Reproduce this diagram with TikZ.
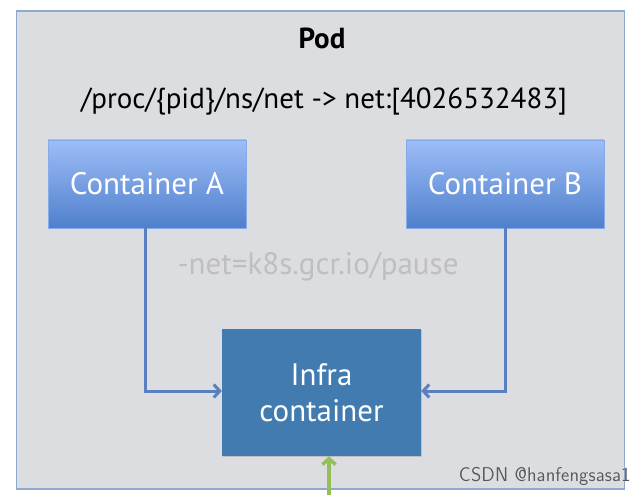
\documentclass[tikz,border=0pt]{standalone}
\usepackage{fontspec}
\setmainfont{PT Sans}
\usetikzlibrary{arrows.meta,shadows}
\definecolor{podbg}{HTML}{DCDDE0}
\definecolor{podline}{HTML}{8FA8D0}
\definecolor{ctop}{HTML}{9DBDF7}
\definecolor{cbot}{HTML}{4F80CC}
\definecolor{infra}{HTML}{417BAF}
\definecolor{link}{HTML}{5A7FC0}
\definecolor{grn}{HTML}{93BE5A}
\begin{document}
\begin{tikzpicture}[x=1pt,y=-1pt,
  cont/.style={draw=ctop!70!cbot,top color=ctop,bottom color=cbot,minimum width=198pt,minimum height=88pt,text=white,font=\fontsize{31}{34}\selectfont,drop shadow={opacity=0.3,shadow xshift=1pt,shadow yshift=-1pt}},
  link/.style={draw=link,line width=3pt,-{Straight Barb[length=6pt,width=13pt]}}]
\useasboundingbox (0,0) rectangle (641,495);
\fill[white] (0,0) rectangle (641,495);
\draw[draw=podline,fill=podbg,line width=1.2pt] (16.5,11) rectangle (624.5,489);
\node (pod) at (322,38) {\fontsize{29}{32}\selectfont\bfseries Pod};
\node (proc) at (324,102) {\fontsize{29}{32}\selectfont /proc/\{pid\}/ns/net -> net:[4026532483]};
\node[cont] (a) at (147,184) {Container A};
\node[cont] (b) at (505,184) {Container B};
\node (lab) at (318,267) {\textcolor{gray!50!white}{\fontsize{31}{34}\selectfont -net=k8s.gcr.io/pause}};
\node[fill=infra,minimum width=199pt,minimum height=127pt,text=white,align=center,font=\fontsize{31}{36}\selectfont,drop shadow={opacity=0.3,shadow xshift=1pt,shadow yshift=-1pt}] (i) at (321.5,392.5) {Infra\\container};
\coordinate (ia) at (i.west |- 0,391);
\coordinate (ib) at (i.east |- 0,391);
\draw[link] (a.south -| 145,0) |- (ia);
\draw[link] (b.south -| 505,0) |- (ib);
\coordinate (g) at (329,495);
\draw[draw=grn,line width=3.5pt,-{Straight Barb[length=6pt,width=13pt]}] (g) -- (i.south -| 329,0);
\node[anchor=east,text=white,font=\fontsize{20}{22}\selectfont\sffamily] (wm0) at (634.5,476.5) {CSDN @hanfengsasa1};
\node[anchor=east,text=gray!70!black,font=\fontsize{20}{22}\selectfont\sffamily] (wm) at (634,476) {CSDN @hanfengsasa1};
\end{tikzpicture}
\end{document}
